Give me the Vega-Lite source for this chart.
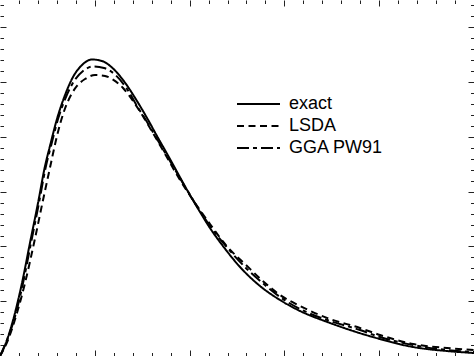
{
  "$schema": "https://vega.github.io/schema/vega-lite/v6.json",
  "width": 474,
  "height": 356,
  "padding": 0,
  "autosize": {"type": "none"},
  "config": {
    "view": {"stroke": null},
    "axis": {"labels": false, "title": null, "domain": false, "grid": false, "tickSize": -6, "tickColor": "#222", "tickWidth": 1,
      "tickDash": {"condition": {"test": "abs(datum.value - round(datum.value)) > 0.01", "value": [3.5, 20]}, "value": [20, 0]}}
  },
  "data": {"values": [
    {"s":"exact","x":0,"y":0},{"s":"exact","x":0.074,"y":0.292},{"s":"exact","x":0.158,"y":0.785},{"s":"exact","x":0.232,"y":1.333},{"s":"exact","x":0.316,"y":2.063},{"s":"exact","x":0.401,"y":2.793},{"s":"exact","x":0.475,"y":3.469},{"s":"exact","x":0.527,"y":3.834},{"s":"exact","x":0.601,"y":4.327},{"s":"exact","x":0.686,"y":4.765},{"s":"exact","x":0.770,"y":5.094},{"s":"exact","x":0.865,"y":5.313},{"s":"exact","x":0.971,"y":5.414},{"s":"exact","x":1.076,"y":5.386},{"s":"exact","x":1.181,"y":5.267},{"s":"exact","x":1.298,"y":5.039},{"s":"exact","x":1.445,"y":4.656},{"s":"exact","x":1.551,"y":4.345},{"s":"exact","x":1.656,"y":4.017},{"s":"exact","x":1.793,"y":3.597},{"s":"exact","x":1.973,"y":3.031},{"s":"exact","x":2.110,"y":2.629},{"s":"exact","x":2.215,"y":2.337},{"s":"exact","x":2.352,"y":2.008},{"s":"exact","x":2.532,"y":1.625},{"s":"exact","x":2.743,"y":1.278},{"s":"exact","x":2.954,"y":1.022},{"s":"exact","x":3.165,"y":0.822},{"s":"exact","x":3.481,"y":0.603},{"s":"exact","x":3.692,"y":0.475},{"s":"exact","x":4.008,"y":0.310},{"s":"exact","x":4.357,"y":0.164},{"s":"exact","x":4.715,"y":0.091},{"s":"exact","x":5.0,"y":0.055},
    {"s":"LSDA","x":0,"y":0},{"s":"LSDA","x":0.084,"y":0.292},{"s":"LSDA","x":0.179,"y":0.785},{"s":"LSDA","x":0.264,"y":1.333},{"s":"LSDA","x":0.359,"y":2.063},{"s":"LSDA","x":0.454,"y":2.848},{"s":"LSDA","x":0.538,"y":3.524},{"s":"LSDA","x":0.591,"y":3.944},{"s":"LSDA","x":0.643,"y":4.291},{"s":"LSDA","x":0.696,"y":4.565},{"s":"LSDA","x":0.749,"y":4.765},{"s":"LSDA","x":0.812,"y":4.930},{"s":"LSDA","x":0.897,"y":5.057},{"s":"LSDA","x":1.002,"y":5.130},{"s":"LSDA","x":1.108,"y":5.112},{"s":"LSDA","x":1.192,"y":5.048},{"s":"LSDA","x":1.298,"y":4.893},{"s":"LSDA","x":1.403,"y":4.656},{"s":"LSDA","x":1.477,"y":4.464},{"s":"LSDA","x":1.582,"y":4.163},{"s":"LSDA","x":1.741,"y":3.688},{"s":"LSDA","x":1.899,"y":3.213},{"s":"LSDA","x":2.057,"y":2.793},{"s":"LSDA","x":2.215,"y":2.410},{"s":"LSDA","x":2.373,"y":2.045},{"s":"LSDA","x":2.606,"y":1.643},{"s":"LSDA","x":2.796,"y":1.333},{"s":"LSDA","x":2.954,"y":1.114},{"s":"LSDA","x":3.165,"y":0.913},{"s":"LSDA","x":3.481,"y":0.676},{"s":"LSDA","x":3.797,"y":0.511},{"s":"LSDA","x":4.008,"y":0.383},{"s":"LSDA","x":4.357,"y":0.219},{"s":"LSDA","x":4.715,"y":0.146},{"s":"LSDA","x":5.0,"y":0.110},
    {"s":"GGA PW91","x":0,"y":0},{"s":"GGA PW91","x":0.074,"y":0.292},{"s":"GGA PW91","x":0.169,"y":0.785},{"s":"GGA PW91","x":0.243,"y":1.333},{"s":"GGA PW91","x":0.327,"y":2.063},{"s":"GGA PW91","x":0.411,"y":2.793},{"s":"GGA PW91","x":0.485,"y":3.469},{"s":"GGA PW91","x":0.538,"y":3.834},{"s":"GGA PW91","x":0.612,"y":4.327},{"s":"GGA PW91","x":0.696,"y":4.729},{"s":"GGA PW91","x":0.781,"y":5.021},{"s":"GGA PW91","x":0.876,"y":5.204},{"s":"GGA PW91","x":0.981,"y":5.286},{"s":"GGA PW91","x":1.097,"y":5.258},{"s":"GGA PW91","x":1.224,"y":5.121},{"s":"GGA PW91","x":1.340,"y":4.875},{"s":"GGA PW91","x":1.445,"y":4.565},{"s":"GGA PW91","x":1.551,"y":4.272},{"s":"GGA PW91","x":1.656,"y":3.962},{"s":"GGA PW91","x":1.793,"y":3.560},{"s":"GGA PW91","x":1.973,"y":3.031},{"s":"GGA PW91","x":2.110,"y":2.647},{"s":"GGA PW91","x":2.215,"y":2.374},{"s":"GGA PW91","x":2.373,"y":2.027},{"s":"GGA PW91","x":2.584,"y":1.625},{"s":"GGA PW91","x":2.795,"y":1.296},{"s":"GGA PW91","x":2.954,"y":1.077},{"s":"GGA PW91","x":3.165,"y":0.858},{"s":"GGA PW91","x":3.481,"y":0.639},{"s":"GGA PW91","x":3.797,"y":0.475},{"s":"GGA PW91","x":4.008,"y":0.347},{"s":"GGA PW91","x":4.357,"y":0.201},{"s":"GGA PW91","x":4.715,"y":0.110},{"s":"GGA PW91","x":5.0,"y":0.073}
  ]},
  "layer": [
    {
      "mark": {"type": "line", "color": "black", "strokeWidth": 2, "interpolate": "monotone", "clip": true},
      "encoding": {
        "x": {"field": "x", "type": "quantitative", "scale": {"domain": [0, 5], "nice": false, "zero": false},
          "axis": {"orient": "bottom", "values": [0.2,0.4,0.6,0.8,1,1.2,1.4,1.6,1.8,2,2.2,2.4,2.6,2.8,3,3.2,3.4,3.6,3.8,4,4.2,4.4,4.6,4.8]}},
        "y": {"field": "y", "type": "quantitative", "scale": {"domain": [0, 6.5], "nice": false, "zero": false},
          "axis": {"orient": "left", "values": [0.2,0.4,0.6,0.8,1,1.2,1.4,1.6,1.8,2,2.2,2.4,2.6,2.8,3,3.2,3.4,3.6,3.8,4,4.2,4.4,4.6,4.8,5,5.2,5.4,5.6,5.8,6,6.2,6.4]}},
        "strokeDash": {"field": "s", "type": "nominal",
          "scale": {"domain": ["exact", "LSDA", "GGA PW91"], "range": [[1, 0], [7, 4.5], [12, 4, 4, 4]]},
          "legend": {"title": null, "orient": "none", "legendX": 236, "legendY": 93.25, "symbolType": "stroke", "symbolSize": 1849,
            "symbolStrokeWidth": 2, "symbolStrokeColor": "black", "labelFont": "Liberation Sans", "labelFontSize": 18, "labelColor": "black",
            "labelOffset": 8, "rowPadding": 0, "clipHeight": 21.5, "padding": 0}}
      }
    },
    {
      "mark": {"type": "line", "opacity": 0},
      "encoding": {
        "x": {"field": "x", "type": "quantitative",
          "axis": {"orient": "top", "values": [0.2,0.4,0.6,0.8,1,1.2,1.4,1.6,1.8,2,2.2,2.4,2.6,2.8,3,3.2,3.4,3.6,3.8,4,4.2,4.4,4.6,4.8]}},
        "y": {"field": "y", "type": "quantitative",
          "axis": {"orient": "right", "values": [0.2,0.4,0.6,0.8,1,1.2,1.4,1.6,1.8,2,2.2,2.4,2.6,2.8,3,3.2,3.4,3.6,3.8,4,4.2,4.4,4.6,4.8,5,5.2,5.4,5.6,5.8,6,6.2,6.4]}},
        "detail": {"field": "s"}
      }
    }
  ],
  "resolve": {"axis": {"x": "independent", "y": "independent"}}
}
